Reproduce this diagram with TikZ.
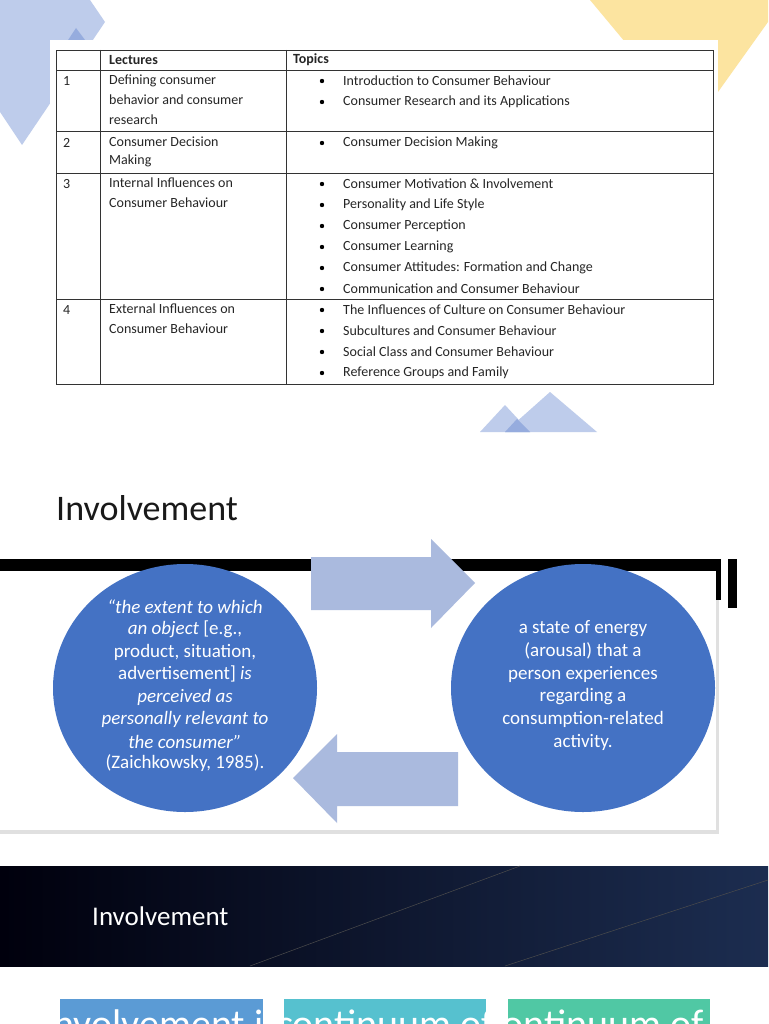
\documentclass[tikz,border=0pt]{standalone}
\usepackage{fontspec}
\setmainfont{Carlito}
\definecolor{cblue}{RGB}{68,114,196}
\definecolor{arrowc}{RGB}{170,186,222}
\definecolor{decob}{RGB}{190,204,235}
\definecolor{decobd}{RGB}{150,172,222}
\definecolor{decoy}{RGB}{252,228,160}
\definecolor{decoyd}{RGB}{250,210,110}
\definecolor{ybar}{RGB}{255,192,0}
\definecolor{navy}{RGB}{28,45,80}
\definecolor{boxa}{RGB}{91,155,213}
\definecolor{boxb}{RGB}{86,193,207}
\definecolor{boxc}{RGB}{80,200,164}
\begin{document}
\begin{tikzpicture}[x=1pt,y=-1pt,
  cell/.style={anchor=west,inner sep=0pt,font=\fontsize{14}{16}\selectfont,text=black!85},
  hdr/.style={cell,font=\fontsize{14}{16}\selectfont\bfseries},
  ctext/.style={inner sep=0pt,text=white,font=\fontsize{19}{22}\selectfont},
  rule/.style={draw=black!80,line width=0.9pt}]
\useasboundingbox (0,0) rectangle (768,1024);
\fill[white] (0,0) rectangle (768,1024);
% decorations top
\fill[decob] (0,0) -- (90,0) -- (105,22) -- (22,145) -- (0,112) -- cycle;
\fill[decobd] (76,28) -- (100,60) -- (55,60) -- cycle;
\fill[decoy] (590,0) -- (768,0) -- (768,22) -- (718,92) -- (640,60) -- cycle;
\fill[decoyd] (655,47) -- (668,60) -- (645,60) -- cycle;
\fill[white] (50,40) rectangle (718,400);
% table
\draw[rule] (56,50) rectangle (713,384);
\foreach \y in {70,131,173,299} \draw[rule] (56,\y) -- (713,\y);
\draw[rule] (100,50) -- (100,384);
\draw[rule] (286,50) -- (286,384);
\node[hdr] (h1) at (109,60) {Lectures};
\node[hdr] (h2) at (293,60) {Topics};
\foreach \n/\y in {1/81,2/143,3/184,4/310} \node[cell] at (63,\y) {\n};
\foreach \t/\y in {Defining consumer/81,behavior and consumer/100,research/120,
  Consumer Decision/142,Making/161,Internal Influences on/183,Consumer Behaviour/203,
  External Influences on/309,Consumer Behaviour/329}
  \node[cell] at (109,\y) {\t};
\foreach \t/\y in {Introduction to Consumer Behaviour/81,Consumer Research and its Applications/102,
  Consumer Decision Making/143,Consumer Motivation \& Involvement/184,Personality and Life Style/205,
  Consumer Perception/226,Consumer Learning/247,Consumer Attitudes: Formation and Change/268,
  Communication and Consumer Behaviour/289,The Influences of Culture on Consumer Behaviour/310,
  Subcultures and Consumer Behaviour/331,Social Class and Consumer Behaviour/352,Reference Groups and Family/373}
  {\fill[black] (322,\y) circle (2.2pt); \node[cell] at (343,\y) {\t};}
% small triangles
\fill[decob] (480,432) -- (505,405) -- (530,432) -- cycle;
\fill[decob] (505,432) -- (550,392) -- (597,432) -- cycle;
\fill[decobd] (505,432) -- (517,419) -- (530,432) -- cycle;
% Involvement title
\node[anchor=west,inner sep=0pt,font=\fontsize{36}{40}\selectfont,text=black!90] (t1) at (56,508) {Involvement};
% slide 2
\fill[black!12] (0,572) rectangle (719,834);
\fill[white] (0,572) rectangle (716,830);
\fill[ybar] (0,559) rectangle (720,571);
\fill[ybar] (728,559) rectangle (737,608);
\fill[ybar] (716,559) rectangle (721,600);
\fill[arrowc] (311,557) -- (431,557) -- (431,539) -- (475,583) -- (431,628) -- (431,610) -- (311,610) -- cycle;
\fill[arrowc] (458,752) -- (337,752) -- (337,734) -- (293,778) -- (337,823) -- (337,806) -- (458,806) -- cycle;
\fill[cblue] (185,688) ellipse (132 and 124);
\fill[cblue] (583,688) ellipse (132 and 124);
\node[ctext] (l1) at (185,607) {\itshape ``the extent to which};
\node[ctext] (l2) at (185,629) {\textit{an object} [e.g.,};
\node[ctext] (l3) at (185,652) {product, situation,};
\node[ctext] (l4) at (185,674) {advertisement] \textit{is}};
\node[ctext] (l5) at (185,697) {\itshape perceived as};
\node[ctext] (l6) at (185,719) {\itshape personally relevant to};
\node[ctext] (l7) at (185,742) {\itshape the consumer''};
\node[ctext] (l8) at (185,763) {(Zaichkowsky, 1985).};
\node[ctext] (r1) at (583,629) {a state of energy};
\node[ctext] (r2) at (583,651) {(arousal) that a};
\node[ctext] (r3) at (583,674) {person experiences};
\node[ctext] (r4) at (583,697) {regarding a};
\node[ctext] (r5) at (583,719) {consumption-related};
\node[ctext] (r6) at (583,742) {activity.};
% banner
\shade[left color=black!95!blue, right color=navy] (0,866) rectangle (768,966);
\draw[black!70,line width=0.5pt] (250,966) -- (520,866);
\draw[black!70,line width=0.5pt] (505,966) -- (768,880);
\node[anchor=west,inner sep=0pt,text=white,font=\fontsize{27}{30}\selectfont] (t2) at (92,916) {Involvement};
% bottom boxes
\begin{scope}
\clip (0,0) rectangle (768,1024);
\fill[boxa] (60,999) rectangle (263,1030);
\fill[boxb] (284,999) rectangle (486,1030);
\fill[boxc] (508,999) rectangle (710,1030);
\node[anchor=north,inner sep=0pt,text=white,font=\fontsize{40}{44}\selectfont] (b1) at (161,1010) {Involvement is};
\node[anchor=north,inner sep=0pt,text=white,font=\fontsize{40}{44}\selectfont] (b2) at (385,1010) {continuum of};
\node[anchor=north,inner sep=0pt,text=white,font=\fontsize{40}{44}\selectfont] (b3) at (609,1010) {continuum of a};
\end{scope}
\end{tikzpicture}
\end{document}
